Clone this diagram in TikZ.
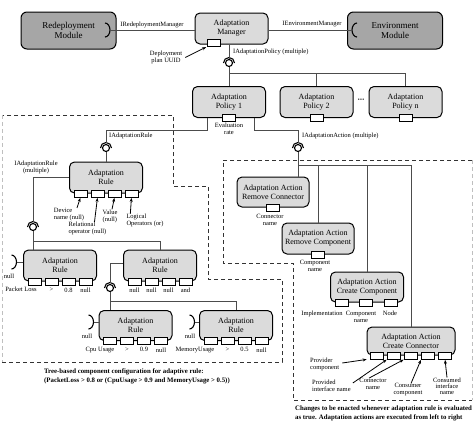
\documentclass[tikz,border=0pt]{standalone}
\usepackage{fontspec}
\setmainfont{Liberation Serif}
\usetikzlibrary{arrows.meta,positioning}

\tikzset{
  module/.style={draw, line width=1pt, rounded corners=6pt, fill=black!35, minimum width=95pt, minimum height=37pt, align=center, inner sep=1pt, font=\fontsize{9}{10}\selectfont},
  unit/.style={draw, line width=1pt, rounded corners=5pt, fill=black!14, minimum width=73pt, minimum height=31pt, align=center, inner sep=1pt, font=\fontsize{8}{9}\selectfont},
  port/.style={draw, line width=0.7pt, fill=white, minimum width=13pt, minimum height=7pt, inner sep=0pt},
  ball/.style={circle, draw, line width=1.1pt, fill=white, minimum size=7pt, inner sep=0pt},
  lbl/.style={font=\fontsize{6.5}{7}\selectfont, align=center, inner sep=0pt},
  note/.style={font=\bfseries\fontsize{6.8}{8.8}\selectfont, align=left, inner sep=0pt},
  wire/.style={draw=black!70, line width=0.8pt},
  frame/.style={draw=black!80, line width=0.8pt, dash pattern=on 4pt off 3pt},
  hint/.style={-{Stealth[length=4pt,width=3pt]}, line width=0.8pt, shorten >=0.5pt},
}
\newcommand{\ballcup}[1]{\draw[line width=1.1pt] (#1.center) ++(-5.5,0) arc[start angle=180, end angle=360, radius=5.5];}
\newcommand{\sockright}[1]{\draw[line width=1.1pt] (#1) ++(-5,-7) arc[start angle=-90, end angle=90, x radius=5, y radius=7];}
\newcommand{\sockleft}[1]{\draw[line width=1.1pt] (#1) ++(5,7) arc[start angle=90, end angle=270, x radius=5, y radius=7];}

\begin{document}
\begin{tikzpicture}[x=1pt,y=-1pt]
   \useasboundingbox (0,0) rectangle (474,424);
   \fill[white] (0,0) rectangle (474,424);

   \draw[frame] (2,362) -- (282,362) -- (282,279) -- (208,279) -- (208,186) -- (173,186) -- (173,115) -- (2,115);
   \draw[frame, draw=black!25] (2,115) -- (2,362);
   \draw[frame] (472,160) -- (223,160) -- (223,263) -- (293,263) -- (293,400) -- (472,400);
   \draw[frame, draw=black!25] (472,160) -- (472,400);

   \node[module] (redeploy) at (68.5,30.5) {Redeployment\\Module};
   \node[unit] (manager) at (231.5,28.5) {Adaptation\\Manager};
   \node[module] (environ) at (395,30.5) {Environment\\Module};
   \node[port] (uuidport) at (213.5,43) {};
   \coordinate (rsock) at (110,30);
   \coordinate (esock) at (352,30);
   \sockright{rsock}
   \sockleft{esock}
   \draw[wire] (rsock) -- (rsock -| manager.west);
   \draw[wire] (esock) -- (esock -| manager.east);
   \node[lbl] (irm) at (152,25) {IRedeploymentManager};
   \node[lbl] (iem) at (312,24.5) {IEnvironmentManager};
   \node[lbl] (uuid) at (166,57.5) {Deployment\\plan UUID};
   \draw[hint] ([xshift=3pt]uuid.east) -- (uuidport.south west);

   \node[ball] (polball) at (229,63) {};
   \ballcup{polball}
   \draw[wire] (manager.south -| polball) -- (polball.north);
   \node[lbl, anchor=west] (ipol) at (233,52) {IAdaptationPolicy (multiple)};
   \node[unit] (policy1) at (229,102) {Adaptation\\Policy 1};
   \node[unit] (policy2) at (316.5,102) {Adaptation\\Policy 2};
   \node[unit] (policyn) at (405.5,102) {Adaptation\\Policy n};
   \node (dots) at (361,100.5) {\fontsize{5.5}{6}\selectfont\textbullet\kern0.3pt\textbullet\kern0.3pt\textbullet};
   \coordinate (polbus) at (229,73);
   \draw[wire] (polball.south) -- (policy1.north);
   \draw[wire] (polbus) -| (policyn.north);
   \draw[wire] (polbus -| policy2) -- (policy2.north);
   \node[port] (evalport) at (policy1.south) {};
   \node[port] (p2port) at (policy2.south) {};
   \node[port] (pnport) at (policyn.south) {};
   \node[lbl] (evallbl) at (229,128.5) {Evaluation\\rate};

   \node[ball] (ruleball) at (106,148) {};
   \ballcup{ruleball}
   \node[ball] (actball) at (298,148) {};
   \ballcup{actball}
   \draw[wire] ([xshift=-22pt]policy1.south) -- ++(0,12) -| ([yshift=5.5pt]ruleball.center);
   \draw[wire] ([xshift=25pt]policy1.south) -- ++(0,12) -| ([yshift=5.5pt]actball.center);
   \node[lbl, anchor=west] (irule) at (109,136) {IAdaptationRule};
   \node[lbl, anchor=west] (iact) at (302,136) {IAdaptationAction (multiple)};

   \node[unit] (toprule) at (106,177.5) {Adaptation\\Rule};
   \draw[wire] (ruleball.south) -- (toprule.north);
   \node[port] (toprule-p1) at ([xshift=-25.5pt]toprule.south) {};
   \node[port] (toprule-p2) at ([xshift=-8.5pt]toprule.south) {};
   \node[port] (toprule-p3) at ([xshift=8.5pt]toprule.south) {};
   \node[port] (toprule-p4) at ([xshift=25.5pt]toprule.south) {};
   \node[lbl, align=left] (devlbl) at (69,214.5) {Device\\name (null)};
   \node[lbl, align=left] (rellbl) at (87.5,228.5) {Relational\\operator (null)};
   \node[lbl, align=left] (vallbl) at (110,216) {Value\\(null)};
   \node[lbl, align=left] (loglbl) at (145,220.5) {Logical\\Operators (or)};
   \draw[hint] ([xshift=8pt]devlbl.north) -- (toprule-p1.south);
   \draw[hint] ([xshift=7pt]rellbl.north) -- (toprule-p2.south);
   \draw[hint] ([xshift=2pt]vallbl.north) -- (toprule-p3.south);
   \draw[hint] ([xshift=4pt]loglbl.north west) -- (toprule-p4.south);

   \node[ball] (subball1) at (33,227) {};
   \ballcup{subball1}
   \draw[wire] (toprule.west) -| ([yshift=5.5pt]subball1.center);
   \node[lbl] (irulem) at (36,167) {IAdaptationRule\\(multiple)};
   \node[unit] (leftrule) at (60,265.5) {Adaptation\\Rule};
   \node[unit] (midrule) at (160,265.5) {Adaptation\\Rule};
   \coordinate (rulebus) at (33,241);
   \draw[wire] (subball1.south) -- (leftrule.north -| subball1);
   \draw[wire] (rulebus) -| (midrule.north);

   \coordinate (lsock) at ([xshift=-6.5pt,yshift=3.5pt]leftrule.west);
   \sockright{lsock}
   \draw[wire] (lsock) -- (lsock -| leftrule.west);
   \node[lbl] (lnull) at (9,276) {null};
   \node[port] (leftrule-p1) at ([xshift=-25.5pt]leftrule.south) {};
   \node[port] (leftrule-p2) at ([xshift=-8.5pt]leftrule.south) {};
   \node[port] (leftrule-p3) at ([xshift=8.5pt]leftrule.south) {};
   \node[port] (leftrule-p4) at ([xshift=25.5pt]leftrule.south) {};
   \node[lbl] at (21,289) {Packet Loss};
   \node[lbl, below=2.5pt of leftrule-p2] {>};
   \node[lbl, below=2.5pt of leftrule-p3] {0.8};
   \node[lbl, below=2.5pt of leftrule-p4] {null};

   \node[port] (midrule-p1) at ([xshift=-25.5pt]midrule.south) {};
   \node[port] (midrule-p2) at ([xshift=-8.5pt]midrule.south) {};
   \node[port] (midrule-p3) at ([xshift=8.5pt]midrule.south) {};
   \node[port] (midrule-p4) at ([xshift=25.5pt]midrule.south) {};
   \node[lbl, below=2.5pt of midrule-p1] {null};
   \node[lbl, below=2.5pt of midrule-p2] {null};
   \node[lbl, below=2.5pt of midrule-p3] {null};
   \node[lbl, below=2.5pt of midrule-p4] {and};

   \node[ball] (subball2) at (110,288) {};
   \ballcup{subball2}
   \draw[wire] ([yshift=2pt]midrule.west) -| ([yshift=5.5pt]subball2.center);
   \node[unit, minimum height=30pt] (cpurule) at (135.5,325.5) {Adaptation\\Rule};
   \node[unit, minimum height=30pt] (memrule) at (236,325.5) {Adaptation\\Rule};
   \coordinate (subbus) at (110,301);
   \draw[wire] (subball2.south) -- (cpurule.north -| subball2);
   \draw[wire] (subbus) -| (memrule.north);

   \coordinate (cpusock) at ([xshift=-5pt,yshift=3.5pt]cpurule.west);
   \sockright{cpusock}
   \draw[wire] (cpusock) -- (cpusock -| cpurule.west);
   \node[lbl] (cnull) at (87,336) {null};
   \node[port] (cpurule-p1) at ([xshift=-25.5pt]cpurule.south) {};
   \node[port] (cpurule-p2) at ([xshift=-8.5pt]cpurule.south) {};
   \node[port] (cpurule-p3) at ([xshift=8.5pt]cpurule.south) {};
   \node[port] (cpurule-p4) at ([xshift=25.5pt]cpurule.south) {};
   \node[lbl] at (100,350) {Cpu Usage};
   \node[lbl, below=2.5pt of cpurule-p2] {>};
   \node[lbl, below=2.5pt of cpurule-p3] {0.9};
   \node[lbl, below=2.5pt of cpurule-p4] {null};

   \coordinate (memsock) at ([xshift=-4.5pt,yshift=3.5pt]memrule.west);
   \sockright{memsock}
   \draw[wire] (memsock) -- (memsock -| memrule.west);
   \node[lbl] (mnull) at (190,336) {null};
   \node[port] (memrule-p1) at ([xshift=-25.5pt]memrule.south) {};
   \node[port] (memrule-p2) at ([xshift=-8.5pt]memrule.south) {};
   \node[port] (memrule-p3) at ([xshift=8.5pt]memrule.south) {};
   \node[port] (memrule-p4) at ([xshift=25.5pt]memrule.south) {};
   \node[lbl] at (195,350) {MemoryUsage};
   \node[lbl, below=2.5pt of memrule-p2] {>};
   \node[lbl, below=2.5pt of memrule-p3] {0.5};
   \node[lbl, below=2.5pt of memrule-p4] {null};

   \node[unit, minimum width=72pt, minimum height=30pt] (rmconn) at (273,192) {Adaptation Action\\Remove Connector};
   \node[unit, minimum width=72pt] (rmcomp) at (318,238.5) {Adaptation Action\\Remove Component};
   \node[unit, minimum height=30pt] (crcomp) at (367,287) {Adaptation Action\\Create Component};
   \node[unit, minimum width=88pt, minimum height=28pt] (crconn) at (411,341) {Adaptation Action\\Create Connector};
   \coordinate (actbus) at (298,165);
   \draw[wire] (actball.south) -- (rmconn.north -| actball);
   \draw[wire] (actbus) -| (crconn.north);
   \draw[wire] (actbus -| rmcomp) -- (rmcomp.north);
   \draw[wire] (actbus -| crcomp) -- (crcomp.north);

   \node[port] (rmconn-p1) at (rmconn.south) {};
   \node[lbl] at (270,219.5) {Connector\\name};
   \node[port] (rmcomp-p1) at (rmcomp.south) {};
   \node[lbl] at (315,266) {Component\\name};

   \node[port] (crcomp-p1) at ([xshift=-25.5pt]crcomp.south) {};
   \node[port] (crcomp-p2) at ([xshift=-1.5pt]crcomp.south) {};
   \node[port] (crcomp-p3) at ([xshift=24pt]crcomp.south) {};
   \node[lbl] at (322,313.5) {Implementation};
   \node[lbl] at (361,316.5) {Component\\name};
   \node[lbl] at (390,313.5) {Node};

   \node[port] (crconn-p1) at ([xshift=-34pt]crconn.south) {};
   \node[port] (crconn-p2) at ([xshift=-17pt]crconn.south) {};
   \node[port] (crconn-p3) at (crconn.south) {};
   \node[port] (crconn-p4) at ([xshift=17pt]crconn.south) {};
   \node[port] (crconn-p5) at ([xshift=34pt]crconn.south) {};
   \node[lbl, align=left, anchor=west] (provlbl) at (310,364) {Provider\\component};
   \node[lbl, align=left, anchor=west] (pifl) at (312,386) {Provided\\interface name};
   \node[lbl] (cnlbl) at (373,384) {Connector\\name};
   \node[lbl] (cmlbl) at (408,390) {Consumer\\component};
   \node[lbl, font=\fontsize{6.5}{6}\selectfont] (cdlbl) at (447,386) {Consumed\\interface\\name};
   \draw[hint] ([xshift=3pt,yshift=1pt]provlbl.east) -- ([xshift=-3pt]crconn-p1.south west);
   \draw[hint] ([xshift=2pt,yshift=3pt]pifl.east) -- (crconn-p2.south west);
   \draw[hint] ([xshift=-4pt]cnlbl.north) -- (crconn-p3.south west);
   \draw[hint] ([xshift=3pt]cmlbl.north) -- (crconn-p4.south west);
   \draw[hint] (cdlbl.north) -- (crconn-p5.south);

   \node[note, anchor=west] (treenote) at (44,376) {Tree-based component configuration for adaptive rule:\\(PacketLoss > 0.8 or (CpuUsage > 0.9 and MemoryUsage > 0.5))};
   \node[note, anchor=west] (actnote) at (295,413.5) {Changes to be enacted whenever adaptation rule is evaluated\\as true. Adaptation actions are executed from left to right};
\end{tikzpicture}
\end{document}
